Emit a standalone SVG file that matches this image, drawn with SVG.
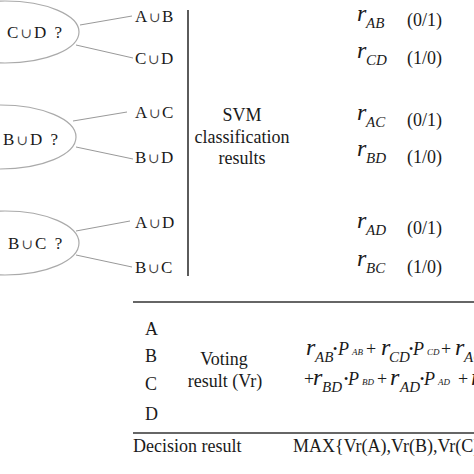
<svg xmlns="http://www.w3.org/2000/svg" width="474" height="474" viewBox="0 0 474 474">
<style>
text{font-family:"Liberation Serif","Times New Roman",serif;fill:#1a1a1a}
.q{font-size:17px;letter-spacing:2px}
.lab{font-size:17px;letter-spacing:1.5px}
.u{font-family:"DejaVu Serif","Liberation Serif",serif;font-size:14px;fill:#444}
.t{font-size:18px}
.r{font-size:24px;font-style:italic}
.s{font-size:15px;font-style:italic}
.p{font-size:18px;font-style:italic}
.ps{font-size:9px;font-style:italic}
.dot{font-size:12px}
.ell{fill:none;stroke:#aaa;stroke-width:1.2}
.con{stroke:#999;stroke-width:1}
.rule{stroke:#333;stroke-width:1.6}
</style>
<rect width="474" height="474" fill="#fff"/>
<g id="q1"><ellipse class="ell" cx="5" cy="32" rx="74" ry="31"/><text class="q" x="7" y="38">C<tspan class="u">∪</tspan>D ?</text></g>
<g id="q2"><ellipse class="ell" cx="0" cy="137" rx="76" ry="32"/><text class="q" x="3" y="145">B<tspan class="u">∪</tspan>D ?</text></g>
<g id="q3"><ellipse class="ell" cx="5" cy="243" rx="74" ry="32"/><text class="q" x="8" y="249">B<tspan class="u">∪</tspan>C ?</text></g>
<g id="connectors">
<line class="con" x1="80" y1="25" x2="132" y2="16"/>
<line class="con" x1="76" y1="45" x2="133" y2="58"/>
<line class="con" x1="73" y1="121" x2="127" y2="112"/>
<line class="con" x1="76" y1="147" x2="133" y2="159"/>
<line class="con" x1="76" y1="231" x2="130" y2="221"/>
<line class="con" x1="76" y1="255" x2="132" y2="267"/>
</g>
<g id="labels">
<text class="lab" x="135" y="22">A<tspan class="u">∪</tspan>B</text>
<text class="lab" x="135" y="64">C<tspan class="u">∪</tspan>D</text>
<text class="lab" x="135" y="118">A<tspan class="u">∪</tspan>C</text>
<text class="lab" x="135" y="163">B<tspan class="u">∪</tspan>D</text>
<text class="lab" x="135" y="228">A<tspan class="u">∪</tspan>D</text>
<text class="lab" x="135" y="273">B<tspan class="u">∪</tspan>C</text>
</g>
<line class="rule" x1="188" y1="10" x2="188" y2="276"/>
<g id="svm" class="t" text-anchor="middle">
<text x="242" y="121">SVM</text>
<text x="242" y="143">classification</text>
<text x="242" y="164">results</text>
</g>
<g id="results">
<text class="r" x="357" y="21">r</text><text class="s" x="366" y="28">AB</text><text class="t" x="407" y="26">(0/1)</text>
<text class="r" x="357" y="58">r</text><text class="s" x="366" y="65">CD</text><text class="t" x="407" y="64">(1/0)</text>
<text class="r" x="357" y="120">r</text><text class="s" x="366" y="127">AC</text><text class="t" x="407" y="126">(0/1)</text>
<text class="r" x="357" y="156">r</text><text class="s" x="366" y="163">BD</text><text class="t" x="407" y="163">(1/0)</text>
<text class="r" x="357" y="228">r</text><text class="s" x="366" y="235">AD</text><text class="t" x="407" y="234">(0/1)</text>
<text class="r" x="357" y="266">r</text><text class="s" x="366" y="273">BC</text><text class="t" x="407" y="273">(1/0)</text>
</g>
<line class="rule" x1="133" y1="302" x2="474" y2="302"/>
<g id="classes" class="t">
<text x="145" y="335">A</text>
<text x="145" y="362">B</text>
<text x="145" y="390">C</text>
<text x="145" y="420">D</text>
</g>
<g id="voting" class="t" text-anchor="middle">
<text x="224" y="365">Voting</text>
<text x="225" y="387">result (Vr)</text>
</g>
<g id="formula">
<text class="r" x="306" y="355">r</text><text class="s" x="315" y="362">AB</text><text class="dot" x="333" y="353">•</text><text class="p" x="338" y="355">P</text><text class="ps" x="352" y="355">AB</text>
<text class="t" x="366" y="355">+</text>
<text class="r" x="381" y="355">r</text><text class="s" x="389" y="362">CD</text><text class="dot" x="409" y="353">•</text><text class="p" x="413" y="355">P</text><text class="ps" x="427" y="355">CD</text>
<text class="t" x="441" y="355">+</text>
<text class="r" x="455" y="355">r</text><text class="s" x="464" y="362">AC</text>
<text class="t" x="304" y="385">+</text>
<text class="r" x="313" y="385">r</text><text class="s" x="322" y="392">BD</text><text class="dot" x="344" y="383">•</text><text class="p" x="348" y="385">P</text><text class="ps" x="362" y="385">BD</text>
<text class="t" x="377" y="385">+</text>
<text class="r" x="390" y="385">r</text><text class="s" x="400" y="392">AD</text><text class="dot" x="420" y="383">•</text><text class="p" x="424" y="385">P</text><text class="ps" x="438" y="385">AD</text>
<text class="t" x="458" y="385">+</text>
<text class="r" x="471" y="385">r</text>
</g>
<line class="rule" x1="133" y1="433" x2="474" y2="433"/>
<g id="decision" class="t">
<text x="133" y="452">Decision result</text>
<text x="293" y="452">MAX{Vr(A),Vr(B),Vr(C),Vr(D)}</text>
</g>
</svg>
